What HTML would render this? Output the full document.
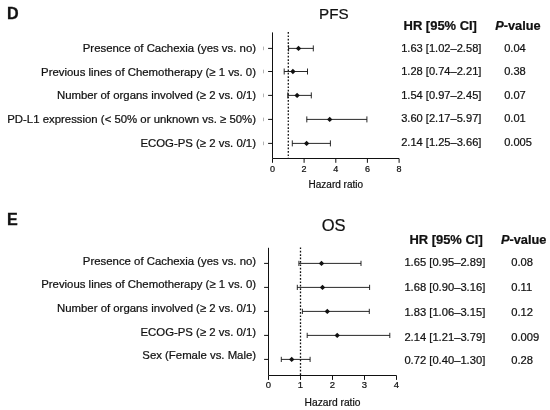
<!DOCTYPE html>
<html><head><meta charset="utf-8"><title>Forest plot</title>
<style>html,body{margin:0;padding:0;background:#fff;}svg{display:block;}text{font-family:"Liberation Sans", sans-serif;fill:#111;stroke:#111;stroke-width:0.22px;}.lab{font-size:11.38px;text-anchor:end;}.val{font-size:11.1px;text-anchor:start;}.pv{font-size:11.1px;text-anchor:start;}.hd{font-size:12.95px;font-weight:bold;}.hp{font-size:12.78px;font-weight:bold;}.tk{font-size:9px;text-anchor:middle;}.ax{font-size:10px;text-anchor:middle;}.ttl{font-size:15px;text-anchor:middle;}.pn{font-size:16.1px;font-weight:bold;stroke:#111;stroke-width:0.3px;}.ln{stroke:#111;stroke-width:1;fill:none;}</style></head><body>
<svg width="550" height="410" viewBox="0 0 550 410">
<rect width="550" height="410" fill="#fff"/>
<text class="pn" x="7.1" y="18.8">D</text>
<text class="ttl" style="font-size:15.2px" x="333.8" y="18.9">PFS</text>
<text class="hd" x="403.6" y="30.0">HR [95% CI]</text>
<text class="hp" x="495.2" y="30.0"><tspan font-style="italic">P</tspan>-value</text>
<path class="ln" d="M272.5 32.4V158.5H399.1"/>
<text class="tk" style="font-size:9px" x="272.5" y="171.9">0</text>
<text class="tk" style="font-size:9px" x="304.1" y="171.9">2</text>
<text class="tk" style="font-size:9px" x="335.8" y="171.9">4</text>
<text class="tk" style="font-size:9px" x="367.4" y="171.9">6</text>
<text class="tk" style="font-size:9px" x="399.1" y="171.9">8</text>
<path class="ln" d="M272.5 158.5v4.3M304.1 158.5v4.3M335.8 158.5v4.3M367.4 158.5v4.3M399.1 158.5v4.3"/>
<text class="ax" style="font-size:10px" x="335.8" y="188.4">Hazard ratio</text>
<path d="M288.3 32.0V158.5" stroke="#111" stroke-width="1.3" stroke-dasharray="1.7 1.7" fill="none"/>
<text class="lab" x="256.0" y="52.2">Presence of Cachexia (yes vs. no)</text>
<path class="ln" d="M268.1 48.4H272.5"/>
<path d="M263.5 46.6v3.6" stroke="#b4b4b4" stroke-width="1" fill="none"/>
<path class="ln" style="stroke-width:0.9" d="M288.6 48.4H313.3M288.6 45.4v6.0M313.3 45.4v6.0"/>
<path d="M298.5 45.7l2.7 2.7l-2.7 2.7l-2.7 -2.7z" fill="#111"/>
<text class="val" style="font-size:11.1px" x="401.2" y="51.5">1.63 [1.02–2.58]</text>
<text class="pv" style="font-size:11.1px" x="504.2" y="51.5">0.04</text>
<text class="lab" x="256.0" y="75.6">Previous lines of Chemotherapy (≥ 1 vs. 0)</text>
<path class="ln" d="M268.1 71.5H272.5"/>
<path d="M263.5 69.7v3.6" stroke="#b4b4b4" stroke-width="1" fill="none"/>
<path class="ln" style="stroke-width:0.9" d="M284.2 71.5H307.5M284.2 68.5v6.0M307.5 68.5v6.0"/>
<path d="M292.9 68.8l2.7 2.7l-2.7 2.7l-2.7 -2.7z" fill="#111"/>
<text class="val" style="font-size:11.1px" x="401.2" y="74.9">1.28 [0.74–2.21]</text>
<text class="pv" style="font-size:11.1px" x="504.2" y="74.9">0.38</text>
<text class="lab" x="256.0" y="99.2">Number of organs involved (≥ 2 vs. 0/1)</text>
<path class="ln" d="M268.1 95.4H272.5"/>
<path d="M263.5 93.6v3.6" stroke="#b4b4b4" stroke-width="1" fill="none"/>
<path class="ln" style="stroke-width:0.9" d="M287.8 95.4H311.3M287.8 92.4v6.0M311.3 92.4v6.0"/>
<path d="M297.1 92.7l2.7 2.7l-2.7 2.7l-2.7 -2.7z" fill="#111"/>
<text class="val" style="font-size:11.1px" x="401.2" y="98.5">1.54 [0.97–2.45]</text>
<text class="pv" style="font-size:11.1px" x="504.2" y="98.5">0.07</text>
<text class="lab" x="256.0" y="122.9">PD-L1 expression (&lt; 50% or unknown vs. ≥ 50%)</text>
<path class="ln" d="M268.1 119.4H272.5"/>
<path d="M263.5 117.6v3.6" stroke="#b4b4b4" stroke-width="1" fill="none"/>
<path class="ln" style="stroke-width:0.9" d="M306.8 119.4H366.9M306.8 116.4v6.0M366.9 116.4v6.0"/>
<path d="M329.7 116.7l2.7 2.7l-2.7 2.7l-2.7 -2.7z" fill="#111"/>
<text class="val" style="font-size:11.1px" x="401.2" y="122.2">3.60 [2.17–5.97]</text>
<text class="pv" style="font-size:11.1px" x="504.2" y="122.2">0.01</text>
<text class="lab" x="256.0" y="147.0">ECOG-PS (≥ 2 vs. 0/1)</text>
<path class="ln" d="M268.1 143.4H272.5"/>
<path d="M263.5 141.6v3.6" stroke="#b4b4b4" stroke-width="1" fill="none"/>
<path class="ln" style="stroke-width:0.9" d="M292.3 143.4H330.4M292.3 140.4v6.0M330.4 140.4v6.0"/>
<path d="M306.6 140.7l2.7 2.7l-2.7 2.7l-2.7 -2.7z" fill="#111"/>
<text class="val" style="font-size:11.1px" x="401.2" y="145.5">2.14 [1.25–3.66]</text>
<text class="pv" style="font-size:11.1px" x="504.2" y="145.5">0.005</text>
<text class="pn" x="7.1" y="224.6">E</text>
<text class="ttl" style="font-size:16.5px" x="333.7" y="231.4">OS</text>
<text class="hd" x="409.4" y="243.6">HR [95% CI]</text>
<text class="hp" x="501.0" y="243.6"><tspan font-style="italic">P</tspan>-value</text>
<path class="ln" d="M268.5 247.8V375.5H396.5"/>
<text class="tk" style="font-size:9.5px" x="268.5" y="388.4">0</text>
<text class="tk" style="font-size:9.5px" x="300.5" y="388.4">1</text>
<text class="tk" style="font-size:9.5px" x="332.5" y="388.4">2</text>
<text class="tk" style="font-size:9.5px" x="364.5" y="388.4">3</text>
<text class="tk" style="font-size:9.5px" x="396.5" y="388.4">4</text>
<path class="ln" d="M268.5 375.5v4.4M300.5 375.5v4.4M332.5 375.5v4.4M364.5 375.5v4.4M396.5 375.5v4.4"/>
<text class="ax" style="font-size:10.25px" x="332.5" y="406.0">Hazard ratio</text>
<path d="M300.5 247.4V375.5" stroke="#111" stroke-width="1.3" stroke-dasharray="1.7 1.7" fill="none"/>
<text class="lab" x="256.1" y="264.9">Presence of Cachexia (yes vs. no)</text>
<path class="ln" d="M264.1 263.4H268.5"/>
<path class="ln" style="stroke-width:0.9" d="M298.9 263.4H361.0M298.9 260.8v5.2M361.0 260.8v5.2"/>
<path d="M321.5 260.7l2.7 2.7l-2.7 2.7l-2.7 -2.7z" fill="#111"/>
<text class="val" style="font-size:11.2px" x="404.4" y="265.7">1.65 [0.95–2.89]</text>
<text class="pv" style="font-size:11.2px" x="511.2" y="265.7">0.08</text>
<text class="lab" x="256.1" y="288.2">Previous lines of Chemotherapy (≥ 1 vs. 0)</text>
<path class="ln" d="M264.1 287.4H268.5"/>
<path class="ln" style="stroke-width:0.9" d="M297.3 287.4H369.6M297.3 284.8v5.2M369.6 284.8v5.2"/>
<path d="M322.5 284.7l2.7 2.7l-2.7 2.7l-2.7 -2.7z" fill="#111"/>
<text class="val" style="font-size:11.2px" x="404.4" y="290.5">1.68 [0.90–3.16]</text>
<text class="pv" style="font-size:11.2px" x="511.2" y="290.5">0.11</text>
<text class="lab" x="256.1" y="312.1">Number of organs involved (≥ 2 vs. 0/1)</text>
<path class="ln" d="M264.1 311.4H268.5"/>
<path class="ln" style="stroke-width:0.9" d="M302.4 311.4H369.3M302.4 308.8v5.2M369.3 308.8v5.2"/>
<path d="M327.3 308.7l2.7 2.7l-2.7 2.7l-2.7 -2.7z" fill="#111"/>
<text class="val" style="font-size:11.2px" x="404.4" y="315.9">1.83 [1.06–3.15]</text>
<text class="pv" style="font-size:11.2px" x="511.2" y="315.9">0.12</text>
<text class="lab" x="256.1" y="335.7">ECOG-PS (≥ 2 vs. 0/1)</text>
<path class="ln" d="M264.1 335.4H268.5"/>
<path class="ln" style="stroke-width:0.9" d="M307.2 335.4H389.8M307.2 332.8v5.2M389.8 332.8v5.2"/>
<path d="M337.2 332.7l2.7 2.7l-2.7 2.7l-2.7 -2.7z" fill="#111"/>
<text class="val" style="font-size:11.2px" x="404.4" y="340.9">2.14 [1.21–3.79]</text>
<text class="pv" style="font-size:11.2px" x="511.2" y="340.9">0.009</text>
<text class="lab" x="256.1" y="359.2">Sex (Female vs. Male)</text>
<path class="ln" d="M264.1 359.4H268.5"/>
<path class="ln" style="stroke-width:0.9" d="M281.3 359.4H310.1M281.3 356.8v5.2M310.1 356.8v5.2"/>
<path d="M291.7 356.7l2.7 2.7l-2.7 2.7l-2.7 -2.7z" fill="#111"/>
<text class="val" style="font-size:11.2px" x="404.4" y="364.1">0.72 [0.40–1.30]</text>
<text class="pv" style="font-size:11.2px" x="511.2" y="364.1">0.28</text>
</svg></body></html>
